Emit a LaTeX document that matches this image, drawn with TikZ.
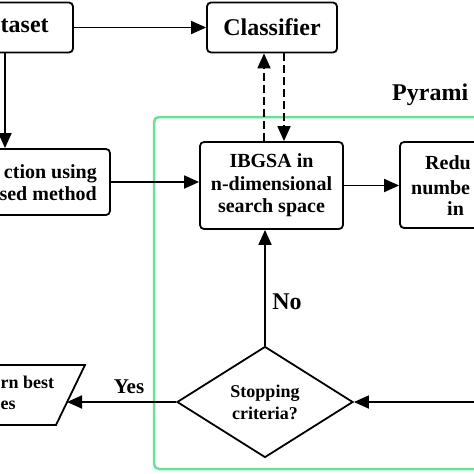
\documentclass[tikz,border=0pt]{standalone}
\usepackage{fontspec}
\setmainfont{Liberation Serif}
\usetikzlibrary{arrows.meta,shapes.geometric}
\definecolor{grn}{RGB}{105,225,150}
\begin{document}
\begin{tikzpicture}[x=1pt,y=-1pt,
 box/.style={draw, line width=1.8pt, rounded corners=4pt, inner sep=0pt},
 arr/.style={line width=1.8pt, -{Triangle[length=15pt,width=13pt]}},
 lbl/.style={inner sep=0pt},
 t24/.style={font=\fontsize{24}{26}\selectfont\bfseries},
 t21/.style={font=\fontsize{21}{24}\selectfont\bfseries},
 t20/.style={font=\fontsize{20}{22.5}\selectfont\bfseries},
 t18/.style={font=\fontsize{18}{22}\selectfont\bfseries}]
\useasboundingbox (0,0) rectangle (474,474);
\clip (0,0) rectangle (474,474);
% green frame
\draw[grn, line width=2.5pt, rounded corners=5pt] (154,117) rectangle (520,469);
% boxes
\node[box, minimum width=120pt, minimum height=50pt] (dataset) at (13,27.5) {};
\node[lbl, t24, anchor=west] (datasettxt) at (0.5,26) {taset};
\node[box, t24, minimum width=130pt, minimum height=50pt] (classifier) at (272,27.5) {Classifier};
\node[box, minimum width=170pt, minimum height=66pt] (feature) at (25,182) {};
\node[lbl, t20, anchor=east, align=right] (featuretxt) at (97,182.5) {ction using\\sed method};
\node[box, t20, align=center, minimum width=143pt, minimum height=87pt] (ibgsa) at (271.5,185.5) {IBGSA in\\n-dimensional\\search space};
\node[box, minimum width=150pt, minimum height=86pt] (reduce) at (475,185) {};
\node[lbl, t20, anchor=west] (r1) at (425,163) {Redu};
\node[lbl, t20, anchor=west] (r2) at (411,188) {numbe};
\node[lbl, t20, anchor=west] (r3) at (447,209) {in};
\node[lbl, t24, anchor=west] (pyr) at (392,95) {Pyrami};
\node[draw, diamond, line width=1.8pt, minimum width=176pt, minimum height=111pt, inner sep=0pt, aspect=1.6, t18, align=center] (stop) at (265,402) {Stopping\\criteria?};
\draw[line width=1.8pt] (-10,365) -- (85,365) -- (56,425) -- (-10,425);
\coordinate (retin) at (67,402);
\node[lbl, t18, anchor=west] (ret1) at (0.5,382) {rn best};
\node[lbl, t18, anchor=west] (ret2) at (0.5,405) {es};
\node[lbl, t24] (no) at (287,302) {No};
\node[lbl, t21] (yes) at (129,387) {Yes};
% connectors
\coordinate (dx) at (5,0);
\coordinate (rin) at (480,400);
\draw[arr] (dataset) -- (classifier);
\draw[arr] (dataset.south -| dx) -- (feature.north -| dx);
\draw[arr] (feature.east) -- (feature.east -| ibgsa.west);
\draw[arr] (ibgsa.east) -- (ibgsa.east -| reduce.west);
\draw[arr, dash pattern=on 8pt off 4pt] ([xshift=-7.5pt]ibgsa.north) -- ([xshift=-7.5pt]ibgsa.north |- classifier.south);
\draw[arr, dash pattern=on 8pt off 4pt] ([xshift=12.5pt]ibgsa.north |- classifier.south) -- ([xshift=12.5pt]ibgsa.north);
\draw[arr] (stop.north) -- (stop.north |- ibgsa.south);
\draw[arr] (rin |- stop.east) -- (stop.east);
\draw[arr] (stop.west) -- (retin);
\end{tikzpicture}
\end{document}
